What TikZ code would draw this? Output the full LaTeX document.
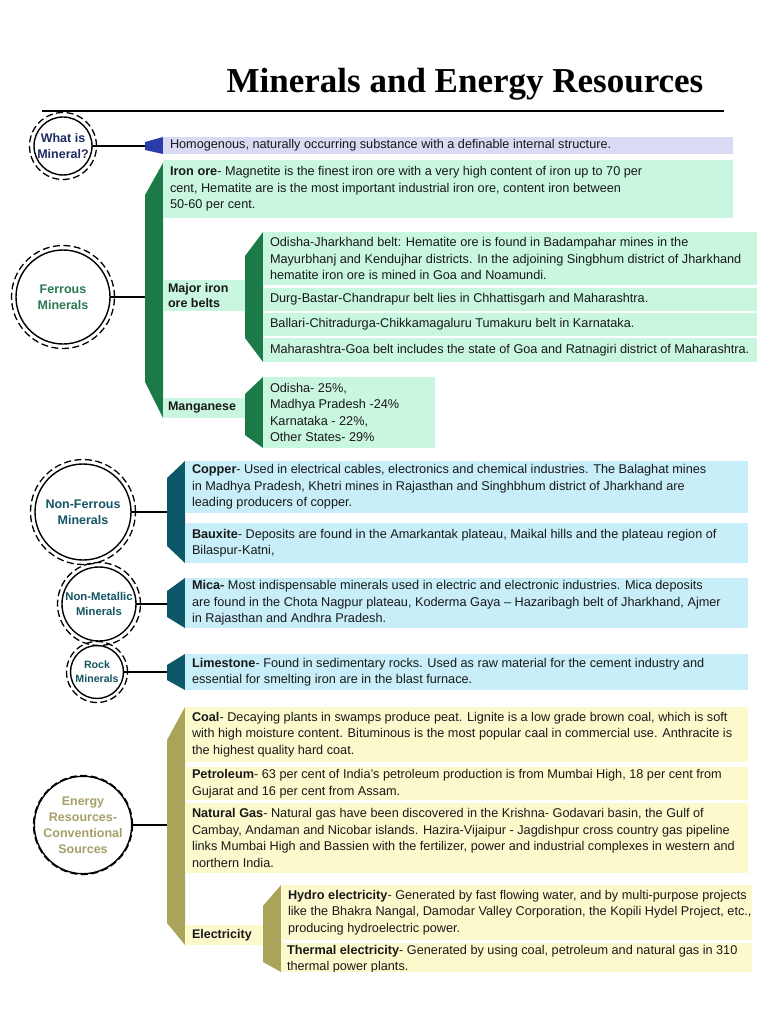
\documentclass[tikz,border=0pt]{standalone}
\usepackage{fontspec}
\setmainfont{Liberation Sans}
\newfontfamily\titlefont{Liberation Serif}
\definecolor{fgreen}{RGB}{27,122,72}
\definecolor{fmint}{RGB}{200,246,222}
\definecolor{tteal}{RGB}{12,88,104}
\definecolor{tcyan}{RGB}{200,238,250}
\definecolor{olive}{RGB}{170,163,90}
\definecolor{eyellow}{RGB}{252,250,205}
\definecolor{lav}{RGB}{218,218,245}
\definecolor{wblue}{RGB}{40,60,170}
\definecolor{txt}{RGB}{25,25,25}
\definecolor{cnavy}{RGB}{30,45,100}
\definecolor{cgreen}{RGB}{40,120,80}
\definecolor{cteal}{RGB}{20,85,100}
\definecolor{colive}{RGB}{165,160,105}
\newcommand\bodyfont{\fontsize{12.7}{16.5}\selectfont}
\newcommand\lblfont{\fontsize{12.5}{15.5}\selectfont\bfseries}
\newcommand\circfont{\fontsize{12.5}{16}\selectfont\bfseries}
\newcommand\ibx[7]{%
  \node[boxfill, fill=#2, minimum width=#5pt, minimum height=#6pt] (#1) at (#3,#4) {};
  \node[boxtext] (#1-t) at ([xshift=7pt]#1.west) {#7};}
\begin{document}
\begin{tikzpicture}[x=1pt,y=-1pt,
  every node/.style={inner sep=0pt, outer sep=0pt},
  boxfill/.style={anchor=north west, draw=none, rectangle},
  boxtext/.style={anchor=west, align=left, font=\bodyfont, text=txt},
  lbltext/.style={anchor=west, align=left, font=\lblfont, text=txt},
  circ/.style={circle, draw=black, line width=1.4pt, align=center, font=\circfont},
  ring/.style={draw=black, line width=1.3pt, dash pattern=on 7pt off 3.5pt},
  link/.style={draw=black, line width=1.3pt}]
\fill[white] (0,0) rectangle (768,1024);
\useasboundingbox (0,0) rectangle (768,1024);

% title
\node[font=\titlefont\bfseries\fontsize{35}{40}\selectfont, anchor=base] (title) at (465,93) {Minerals and Energy Resources};
\coordinate (rl) at (42,111);
\coordinate (rr) at (724,111);
\draw[line width=1.3pt] (rl) -- (rr);

% ---------- What is mineral ----------
\node[circ, minimum size=58pt, text=cnavy] (what) at (63,146) {What is\\Mineral?};
\draw[ring] (what.center) circle[radius=33.5pt];
\fill[wblue] (145,142) -- (163,137) -- (163,154) -- (145,150) -- cycle;
\coordinate (whatbr) at (145,146);
\draw[link] (what) -- (whatbr);
\ibx{whatbox}{lav}{163}{137}{570}{17}{Homogenous, naturally occurring substance with a definable internal structure.}

% ---------- Ferrous ----------
\node[circ, minimum size=94pt, text=cgreen] (fer) at (63,297) {Ferrous\\Minerals};
\draw[ring] (fer.center) circle[radius=51.5pt];
\fill[fgreen] (163,163) -- (163,418) -- (145,382) -- (145,195) -- cycle;
\coordinate (ferbr) at (145,297);
\draw[link] (fer) -- (ferbr);
\ibx{iron}{fmint}{163}{160}{570}{58}{\textbf{Iron ore}- Magnetite is the finest iron ore with a very high content of iron up to 70 per\\cent, Hematite are is the most important industrial iron ore, content iron between\\50-60 per cent.}
\node[boxfill, fill=fmint, minimum width=82pt, minimum height=31pt] (major) at (163,280) {};
\node[lbltext] (major-t) at ([xshift=5pt]major.west) {Major iron\\ore belts};
\fill[fgreen] (263,232) -- (263,362) -- (245,338) -- (245,256) -- cycle;
\ibx{odisha}{fmint}{263}{232}{494}{53}{Odisha-Jharkhand belt: Hematite ore is found in Badampahar mines in the\\Mayurbhanj and Kendujhar districts. In the adjoining Singbhum district of Jharkhand\\hematite iron ore is mined in Goa and Noamundi.}
\ibx{durg}{fmint}{263}{288}{494}{23}{Durg-Bastar-Chandrapur belt lies in Chhattisgarh and Maharashtra.}
\ibx{ballari}{fmint}{263}{313}{494}{23}{Ballari-Chitradurga-Chikkamagaluru Tumakuru belt in Karnataka.}
\ibx{maha}{fmint}{263}{338}{494}{24}{Maharashtra-Goa belt includes the state of Goa and Ratnagiri district of Maharashtra.}
\node[boxfill, fill=fmint, minimum width=82pt, minimum height=20pt] (mang) at (163,398) {};
\node[lbltext] (mang-t) at ([xshift=5pt]mang.west) {Manganese};
\fill[fgreen] (263,377) -- (263,448) -- (245,435) -- (245,394) -- cycle;
\ibx{mnbox}{fmint}{263}{377}{172}{71}{\baselineskip=17.3pt Odisha- 25\%,\\Madhya Pradesh -24\%\\Karnataka - 22\%,\\Other States- 29\%}

% ---------- Non-Ferrous ----------
\node[circ, minimum size=96pt, text=cteal] (nonfer) at (83,512) {Non-Ferrous\\Minerals};
\draw[ring] (nonfer.center) circle[radius=52.5pt];
\fill[tteal] (185,461) -- (185,563) -- (167,546) -- (167,478) -- cycle;
\coordinate (nonferbr) at (167,512);
\draw[link] (nonfer) -- (nonferbr);
\ibx{copper}{tcyan}{185}{461}{563}{52}{\textbf{Copper}- Used in electrical cables, electronics and chemical industries. The Balaghat mines\\in Madhya Pradesh, Khetri mines in Rajasthan and Singhbhum district of Jharkhand are\\leading producers of copper.}
\ibx{bauxite}{tcyan}{185}{523}{563}{40}{\textbf{Bauxite}- Deposits are found in the Amarkantak plateau, Maikal hills and the plateau region of\\Bilaspur-Katni,}

% ---------- Non-Metallic ----------
\node[circ, minimum size=74pt, text=cteal, font=\fontsize{11.3}{15}\selectfont\bfseries] (nonmet) at (99,604) {Non-Metallic\\Minerals};
\draw[ring] (nonmet.center) circle[radius=41.5pt];
\fill[tteal] (185,578) -- (185,628) -- (167,617) -- (167,591) -- cycle;
\coordinate (nonmetbr) at (167,604);
\draw[link] (nonmet) -- (nonmetbr);
\ibx{mica}{tcyan}{185}{578}{563}{50}{\textbf{Mica-} Most indispensable minerals used in electric and electronic industries. Mica deposits\\are found in the Chota Nagpur plateau, Koderma Gaya – Hazaribagh belt of Jharkhand, Ajmer\\in Rajasthan and Andhra Pradesh.}

% ---------- Rock ----------
\node[circ, minimum size=53pt, text=cteal, font=\fontsize{10.6}{14}\selectfont\bfseries] (rock) at (97,672) {Rock\\Minerals};
\draw[ring] (rock.center) circle[radius=30.5pt];
\fill[tteal] (185,654) -- (185,690) -- (167,680) -- (167,665) -- cycle;
\coordinate (rockbr) at (167,672);
\draw[link] (rock) -- (rockbr);
\ibx{lime}{tcyan}{185}{654}{563}{36}{\textbf{Limestone}- Found in sedimentary rocks. Used as raw material for the cement industry and\\essential for smelting iron are in the blast furnace.}

% ---------- Energy ----------
\node[circ, minimum size=90pt, text=colive] (energy) at (83,825) {Energy\\Resources-\\Conventional\\Sources};
\draw[ring] (energy.center) circle[radius=49.5pt];
\fill[olive] (185,707) -- (185,945) -- (167,923) -- (167,740) -- cycle;
\coordinate (energybr) at (167,825);
\draw[link] (energy) -- (energybr);
\ibx{coal}{eyellow}{185}{707}{563}{55}{\textbf{Coal}- Decaying plants in swamps produce peat. Lignite is a low grade brown coal, which is soft\\with high moisture content. Bituminous is the most popular caal in commercial use. Anthracite is\\the highest quality hard coat.}
\ibx{petrol}{eyellow}{185}{767}{563}{33}{\textbf{Petroleum}- 63 per cent of India's petroleum production is from Mumbai High, 18 per cent from\\Gujarat and 16 per cent from Assam.}
\ibx{natgas}{eyellow}{185}{803}{563}{70}{\textbf{Natural Gas}- Natural gas have been discovered in the Krishna- Godavari basin, the Gulf of\\Cambay, Andaman and Nicobar islands. Hazira-Vijaipur - Jagdishpur cross country gas pipeline\\links Mumbai High and Bassien with the fertilizer, power and industrial complexes in western and\\northern India.}
\node[boxfill, fill=eyellow, minimum width=78pt, minimum height=20pt] (elec) at (185,925) {};
\node[lbltext] (elec-t) at ([xshift=7pt]elec.west) {Electricity};
\fill[olive] (281,885) -- (281,972) -- (263,962) -- (263,906) -- cycle;
\ibx{hydro}{eyellow}{281}{885}{471}{55}{\textbf{Hydro electricity}- Generated by fast flowing water, and by multi-purpose projects\\like the Bhakra Nangal, Damodar Valley Corporation, the Kopili Hydel Project, etc.,\\producing hydroelectric power.}
\begin{scope}
\clip (281,943) rectangle (752,971);
\node[boxfill, fill=eyellow, minimum width=471pt, minimum height=29pt] (thermal) at (281,943) {};
\node[boxtext, anchor=north west] (thermal-t) at (287,945) {\textbf{Thermal electricity}- Generated by using coal, petroleum and natural gas in 310\\thermal power plants.};
\end{scope}
\end{tikzpicture}
\end{document}
